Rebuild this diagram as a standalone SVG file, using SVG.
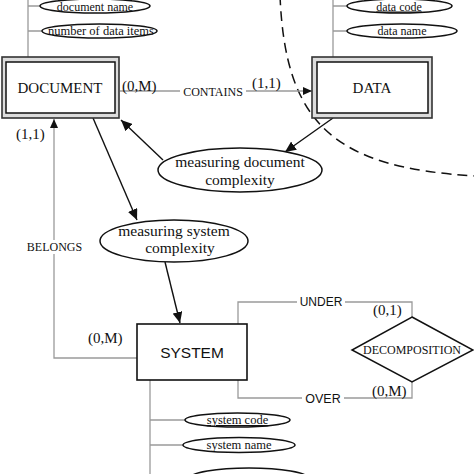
<svg xmlns="http://www.w3.org/2000/svg" width="474" height="474" viewBox="0 0 474 474">
<style>
.ser{font-family:"Liberation Serif","Times New Roman",serif;fill:#111}
.san{font-family:"Liberation Sans",Arial,sans-serif;fill:#111}
.gl{fill:none;stroke:#9a9a9a;stroke-width:1.3}
.ar{fill:none;stroke:#111;stroke-width:1.4}
.el{fill:#fff;stroke:#111;stroke-width:1.5}
.outer{fill:#dcdcdc;stroke:#333;stroke-width:1.6}
.inner{fill:#fff;stroke:#111;stroke-width:1.5}
.bg{fill:#fff}
</style>
<defs>
<marker id="ah" markerUnits="userSpaceOnUse" markerWidth="12" markerHeight="10" refX="11" refY="5" orient="auto">
<path d="M0,0 L11,5 L0,10 z" fill="#111"/>
</marker>
<marker id="ahs" markerUnits="userSpaceOnUse" markerWidth="9" markerHeight="8" refX="9" refY="4" orient="auto">
<path d="M0,0 L9,4 L0,8 z" fill="#111"/>
</marker>
</defs>
<rect width="474" height="474" fill="#fff"/>

<!-- dashed boundary -->
<path d="M280,-5 C285,125 335,168 476,176" fill="none" stroke="#111" stroke-width="1.5" stroke-dasharray="10,6"/>

<g id="connectors">
<path class="gl" d="M28,57 V0 M28,6 H40 M28,31 H42"/>
<path class="gl" d="M333,57 V0 M333,6 H347 M333,31 H347"/>
<path class="gl" d="M120,91 H312" marker-end="url(#ahs)"/>
<rect class="bg" x="180" y="85" width="66" height="13"/>
<text class="ser" x="213" y="96" font-size="12" text-anchor="middle">CONTAINS</text>
<path class="gl" d="M137,358 H54 V119" marker-end="url(#ahs)"/>
<rect class="bg" x="26" y="240" width="57" height="14"/>
<text class="ser" x="54.5" y="251" font-size="12" text-anchor="middle">BELONGS</text>
<path class="gl" d="M238,324 V302 H412 V317"/>
<rect class="bg" x="297" y="295" width="48" height="13"/>
<text class="san" x="321" y="306" font-size="12" text-anchor="middle">UNDER</text>
<path class="gl" d="M238,380 V398 H412 V382"/>
<rect class="bg" x="302" y="391" width="42" height="13"/>
<text class="san" x="323" y="403" font-size="12.5" text-anchor="middle">OVER</text>
<path class="gl" d="M150,380 V474 M150,420 H185 M150,445 H183"/>
<path class="ar" d="M333,118 L285,152" marker-end="url(#ah)"/>
<path class="ar" d="M163,160 L121,120" marker-end="url(#ah)"/>
<path class="ar" d="M93,118 L137,220" marker-end="url(#ah)"/>
<path class="ar" d="M165,262 L180,323" marker-end="url(#ah)"/>
<text class="ser" x="122" y="91" font-size="15">(0,M)</text>
<text class="ser" x="252" y="88" font-size="15">(1,1)</text>
<text class="ser" x="16" y="139" font-size="15">(1,1)</text>
<text class="ser" x="88" y="343" font-size="15">(0,M)</text>
<text class="ser" x="373" y="315" font-size="15">(0,1)</text>
<text class="ser" x="372" y="396" font-size="15">(0,M)</text>
</g>

<g id="document">
<rect class="outer" x="2" y="57" width="117" height="61"/>
<rect class="inner" x="6" y="62" width="109" height="51"/>
<text class="ser" x="60" y="93" font-size="15" text-anchor="middle">DOCUMENT</text>
</g>
<g id="doc-name">
<ellipse class="el" cx="95" cy="6" rx="55" ry="7"/>
<text class="ser" x="95" y="10.5" font-size="12" text-anchor="middle">document name</text>
</g>
<g id="doc-items">
<ellipse class="el" cx="99.5" cy="31" rx="57.5" ry="7"/>
<text class="ser" x="101" y="35" font-size="12.5" text-anchor="middle">number of data items</text>
</g>

<g id="data">
<rect class="outer" x="312" y="57" width="120" height="61"/>
<rect class="inner" x="317" y="62" width="111" height="51"/>
<text class="ser" x="372" y="93" font-size="15" text-anchor="middle">DATA</text>
</g>
<g id="data-code">
<ellipse class="el" cx="399.5" cy="6" rx="52.5" ry="7"/>
<text class="ser" x="399" y="10.5" font-size="12" text-anchor="middle" text-decoration="underline">data code</text>
</g>
<g id="data-name">
<ellipse class="el" cx="402" cy="31" rx="55" ry="7"/>
<text class="ser" x="402" y="35" font-size="12" text-anchor="middle">data name</text>
</g>

<g id="measure-doc">
<ellipse class="el" cx="240" cy="170" rx="82" ry="22"/>
<text class="ser" x="240" y="167" font-size="15.5" text-anchor="middle">measuring document</text>
<text class="ser" x="240" y="185" font-size="15.5" text-anchor="middle">complexity</text>
</g>

<g id="measure-sys">
<ellipse class="el" cx="174" cy="241" rx="74" ry="21"/>
<text class="ser" x="174" y="236" font-size="15.5" text-anchor="middle">measuring system</text>
<text class="ser" x="180" y="253" font-size="15.5" text-anchor="middle">complexity</text>
</g>

<g id="system">
<rect x="137" y="324" width="110" height="56" fill="#fff" stroke="#111" stroke-width="1.6"/>
<text class="san" x="192" y="358" font-size="15.5" text-anchor="middle">SYSTEM</text>
</g>

<g id="decomposition">
<polygon points="412,317 473,350 412,382 352,350" fill="#fff" stroke="#111" stroke-width="1.5"/>
<text class="ser" x="412" y="354" font-size="12" text-anchor="middle">DECOMPOSITION</text>
</g>

<g id="sys-code">
<ellipse class="el" cx="237.5" cy="420" rx="52.5" ry="7"/>
<text class="ser" x="237.5" y="424" font-size="12.5" text-anchor="middle" text-decoration="underline">system code</text>
</g>
<g id="sys-name">
<ellipse class="el" cx="239" cy="445" rx="56" ry="7.5"/>
<text class="ser" x="239" y="449" font-size="12.5" text-anchor="middle">system name</text>
</g>
<g id="sys-attr3">
<ellipse class="el" cx="249" cy="478" rx="59" ry="10"/>
</g>
</svg>
